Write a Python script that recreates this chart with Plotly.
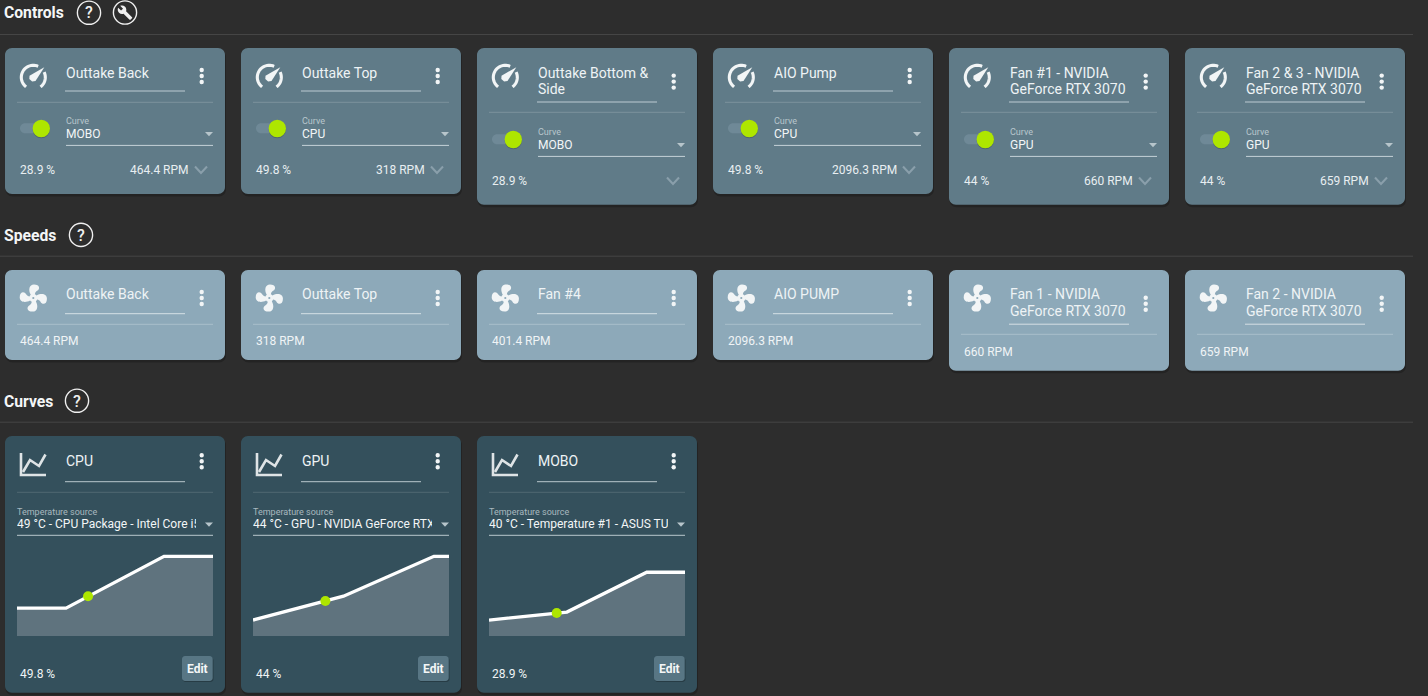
import math
import re
import plotly.graph_objects as go

# ---------- data ----------
control_names = ["Outtake Back", "Outtake Top", "Outtake Bottom &\nSide", "AIO Pump",
                 "Fan #1 - NVIDIA\nGeForce RTX 3070", "Fan 2 & 3 - NVIDIA\nGeForce RTX 3070"]
control_curves = ["MOBO", "CPU", "MOBO", "CPU", "GPU", "GPU"]
control_duties = ["28.9 %", "49.8 %", "28.9 %", "49.8 %", "44 %", "44 %"]
control_rpms = ["464.4 RPM", "318 RPM", "", "2096.3 RPM", "660 RPM", "659 RPM"]

speed_names = ["Outtake Back", "Outtake Top", "Fan #4", "AIO PUMP",
               "Fan 1 - NVIDIA\nGeForce RTX 3070", "Fan 2 - NVIDIA\nGeForce RTX 3070"]
speed_rpms = ["464.4 RPM", "318 RPM", "401.4 RPM", "2096.3 RPM", "660 RPM", "659 RPM"]

curve_names = ["CPU", "GPU", "MOBO"]
curve_sources = ["49 °C - CPU Package - Intel Core i5",
                 "44 °C - GPU - NVIDIA GeForce RTX",
                 "40 °C - Temperature #1 - ASUS TU"]
curve_labels = ["49.8 %", "44 %", "28.9 %"]

cpu_temps = [20, 40, 80, 100]
cpu_duties = [35, 35, 100, 100]
gpu_temps = [20, 50, 80, 85]
gpu_duties = [20, 50, 100, 100]
mobo_temps = [20, 43, 66.6, 77.9]
mobo_duties = [20, 30, 80, 80]
curve_temps = [cpu_temps, gpu_temps, mobo_temps]
curve_duties = [cpu_duties, gpu_duties, mobo_duties]
current_temps = [49, 44, 40]
current_duties = [49.8, 44, 28.9]

section_titles = ["Controls", "Speeds", "Curves"]

# ---------- page geometry and colours ----------
W, H = 1428, 696
BG = "#2d2d2d"
RULE = "#454545"
CTRL = "#607b88"
SPEED = "#8da9b9"
CURVE = "#34505c"
AREA = "#5f737e"
LIME = "#aee600"
ICON = "#f2f5f6"
FONT = "Roboto"

shapes = []
annotations = []


def X(px):
    return px / W


def Y(py):
    return 1 - py / H


def P(px, py):
    return f"{X(px):.6f},{Y(py):.6f}"


def path(d, fill="rgba(0,0,0,0)", line=None, width=0):
    shapes.append(dict(type="path", xref="paper", yref="paper", path=d, fillcolor=fill,
                       line=dict(color=line or "rgba(0,0,0,0)", width=width), layer="below"))


def rrect(x0, y0, x1, y1, r, fill):
    k = r * 0.45
    d = (f"M{P(x0 + r, y0)} L{P(x1 - r, y0)} C{P(x1 - k, y0)} {P(x1, y0 + k)} {P(x1, y0 + r)} "
         f"L{P(x1, y1 - r)} C{P(x1, y1 - k)} {P(x1 - k, y1)} {P(x1 - r, y1)} "
         f"L{P(x0 + r, y1)} C{P(x0 + k, y1)} {P(x0, y1 - k)} {P(x0, y1 - r)} "
         f"L{P(x0, y0 + r)} C{P(x0, y0 + k)} {P(x0 + k, y0)} {P(x0 + r, y0)} Z")
    path(d, fill=fill)


def hline(x0, x1, y, color, width=1):
    shapes.append(dict(type="line", xref="paper", yref="paper", x0=X(x0), x1=X(x1), y0=Y(y), y1=Y(y),
                       line=dict(color=color, width=width), layer="below"))


def circle(cx, cy, r, fill, line=None, width=0):
    shapes.append(dict(type="circle", xref="paper", yref="paper",
                       x0=X(cx - r), x1=X(cx + r), y0=Y(cy - r), y1=Y(cy + r),
                       fillcolor=fill, line=dict(color=line or "rgba(0,0,0,0)", width=width),
                       layer="below"))


def polyline(points, color, width, closed=False, fill="rgba(0,0,0,0)"):
    d = "M" + " L".join(P(a, b) for a, b in points) + (" Z" if closed else "")
    path(d, fill=fill, line=color, width=width)


def text(x, y, s, size=12, color="#e8eef1", anchor="left", weight=None, clip_width=None):
    font = dict(family=FONT, size=size, color=color)
    if weight:
        font["weight"] = weight
    item = dict(xref="paper", yref="paper", x=X(x), y=Y(y), text=s, showarrow=False,
                xanchor=anchor, yanchor="middle", align=anchor, font=font,
                borderpad=0, borderwidth=0)
    if clip_width:
        item["width"] = clip_width
    annotations.append(item)


def svg_icon(d, cx, cy, box_c, scale, fill):
    """Place an absolute M/L/C/Z icon outline, centred on cx, cy."""
    out = []
    for cmd, args in re.findall(r"([MLCZ])([^MLCZ]*)", d):
        nums = [float(n) for n in re.findall(r"-?\d*\.?\d+", args)]
        pts = [P(cx + (nums[i] - box_c) * scale, cy + (nums[i + 1] - box_c) * scale)
               for i in range(0, len(nums), 2)]
        out.append(cmd + " ".join(pts))
    path(" ".join(out), fill=fill)


FAN = ("M12.5,2 C17,2 17.11,5.57 14.75,6.75 C13.76,7.24 13.32,8.29 13.13,9.22 C13.61,9.42 14.03,9.73 14.35,10.13 "
       "C18.05,8.13 22.03,8.92 22.03,12.5 C22.03,17 18.46,17.1 17.28,14.73 C16.78,13.74 15.72,13.3 14.79,13.11 "
       "C14.59,13.59 14.28,14 13.88,14.34 C15.87,18.03 15.08,22 11.5,22 C7,22 6.91,18.42 9.27,17.24 "
       "C10.25,16.75 10.69,15.71 10.89,14.79 C10.4,14.59 9.97,14.27 9.65,13.87 C5.96,15.85 2,15.07 2,11.5 "
       "C2,7 5.56,6.89 6.74,9.26 C7.24,10.25 8.29,10.68 9.22,10.87 C9.41,10.39 9.73,9.97 10.14,9.65 "
       "C8.15,5.96 8.94,2 12.5,2 Z")
WRENCH = ("M22.7,19 L13.6,9.9 C14.5,7.6 14,4.9 12.1,3 C10.1,1 7.1,0.6 4.7,1.7 L9,6 L6,9 L1.6,4.7 "
          "C0.4,7.1 0.9,10.1 2.9,12.1 C4.8,14 7.5,14.5 9.8,13.6 L18.9,22.7 C19.3,23.1 19.9,23.1 20.3,22.7 "
          "L22.6,20.4 C23.1,20 23.1,19.3 22.7,19 Z")


def gauge(left, cy):
    cx, r = left + 28.3, 12
    for a0, a1 in ((-143, 24), (64, 143)):
        pts = []
        for i in range(25):
            a = math.radians(a0 + (a1 - a0) * i / 24)
            pts.append((cx + r * math.sin(a), cy + 1.3 - r * math.cos(a)))
        polyline(pts, ICON, 3.1)
    polyline([(cx + 11, cy - 8.8), (cx + 2.2, cy + 5), (cx - 1.2, cy + 5.6), (cx - 4, cy + 3), (cx - 3.8, cy - 0.2)],
             ICON, 0, closed=True, fill=ICON)


def fan(left, cy, hole):
    svg_icon(FAN, left + 28.3, cy, 12, 1.36, ICON)
    circle(left + 28.3, cy, 1.1, hole)


def chart_icon(left, top):
    c = "#dfe4e6"
    polyline([(left + 16, top + 17), (left + 16, top + 39), (left + 41, top + 39)], c, 2.6)
    polyline([(left + 18, top + 36), (left + 25, top + 24), (left + 34, top + 30), (left + 40.5, top + 18.5)], c, 2.6)


def menu(left, cy, color=ICON):
    for dy in (-6, 0, 6):
        circle(left + 196.7, cy + dy, 2.2, color)


def arrow(left, cy):
    polyline([(left + 200, cy - 2), (left + 208, cy - 2), (left + 204, cy + 2.2)],
             "#b7c5cb", 0, closed=True, fill="#b7c5cb")


def chevron(left, cy):
    polyline([(left + 190, cy - 3.5), (left + 196, cy + 3), (left + 202, cy - 3.5)], "#8a9fab", 2)


def card(left, top, bottom, fill):
    rrect(left + 0.5, top + 2, left + 221, bottom + 2.5, 7, "rgba(0,0,0,0.22)")
    rrect(left, top, left + 220, bottom, 7, fill)


def help_icon(cx, cy):
    circle(cx, cy, 11.6, "rgba(0,0,0,0)", line="#f0f0f0", width=1.4)
    text(cx, cy + 0.3, "?", size=16, color="#f0f0f0", anchor="center", weight=500)


# ---------- page background items ----------
section_y = [13, 235.2, 401]
rule_y = [34.5, 256.2, 422.2]
help_x = [89, 81, 77]
for title, sy, ry, hx in zip(section_titles, section_y, rule_y, help_x):
    text(4, sy, title, size=15.7, color="#f4f6f7", weight=700)
    hline(0, 1413, ry, RULE, 1)
    help_icon(hx, sy - 0.3)
circle(125, 12.5, 11.6, "rgba(0,0,0,0)", line="#f0f0f0", width=1.4)
svg_icon(WRENCH, 125, 12.6, 12, 0.66, "#f0f0f0")

# ---------- Controls ----------
for i, (name, curve, duty, rpm) in enumerate(zip(control_names, control_curves, control_duties, control_rpms)):
    left = 5 + 236 * i
    top = 48
    lines = name.split("\n")
    tall = len(lines) > 1
    shift = 11 if tall else 0
    card(left, top, 194 + shift - (0.3 if tall else 0), CTRL)
    gauge(left, 76)
    text(left + 61, 73.2, lines[0], size=14, color="#eef3f5")
    if tall:
        text(left + 61, 89.2, lines[1], size=14, color="#eef3f5")
    menu(left, 76 + (5.6 if tall else 0))
    hline(left + 60, left + 180, 91 + shift, "#bccbd2", 1)
    hline(left + 12, left + 208, 102.3 + (10 if tall else 0), "rgba(255,255,255,0.18)", 1)
    rrect(left + 15, 124 + shift - 0.7, left + 43, 134 + shift - 0.7, 5, "#6f8997")
    circle(left + 36.3, 130 + shift - 0.5, 8.7, "rgba(0,0,0,0.18)")
    circle(left + 36.3, 129 + shift - 0.5, 8.7, LIME)
    text(left + 61, 121.7 + shift - 1, "Curve", size=9, color="#b9c7cd")
    text(left + 61, 133.7 + shift, curve, size=12, color="#f3f6f7")
    arrow(left, 134 + shift)
    hline(left + 61, left + 208, 145.4 + shift, "#c5d2d8", 1)
    text(left + 15, 169.7 + shift, duty, size=12, color="#e8eef1")
    if rpm:
        text(left + 184, 169.7 + shift, rpm, size=12, color="#e8eef1", anchor="right")
    chevron(left, 170 + shift)

# ---------- Speeds ----------
for i, (name, rpm) in enumerate(zip(speed_names, speed_rpms)):
    left = 5 + 236 * i
    lines = name.split("\n")
    tall = len(lines) > 1
    shift = 10.5 if tall else 0
    card(left, 270, 360 + (10.7 if tall else 0), SPEED)
    fan(left, 298, SPEED)
    text(left + 61, 294.3, lines[0], size=14, color="#eef3f5")
    if tall:
        text(left + 61, 311.3, lines[1], size=14, color="#eef3f5")
    menu(left, 298 + (5.7 if tall else 0))
    hline(left + 60, left + 180, 313.7 + shift, "#d5e0e5", 1)
    hline(left + 12, left + 208, 324.3 + (10 if tall else 0), "rgba(255,255,255,0.25)", 1)
    text(left + 15, 340.7 + (11 if tall else 0), rpm, size=12, color="#f0f4f6")

# ---------- Curves ----------
data = []
layout_axes = {}
for i, (name, src, lab, temps, duties, t_now, d_now) in enumerate(
        zip(curve_names, curve_sources, curve_labels, curve_temps, curve_duties, current_temps, current_duties)):
    left = 5 + 236 * i
    top = 436
    card(left, top, 692.7, CURVE)
    chart_icon(left, top)
    text(left + 61, 461, name, size=14, color="#eef3f5")
    menu(left, 461.3)
    hline(left + 60, left + 180, 481.7, "#b9c7cd", 1)
    hline(left + 12, left + 208, 492.3, "rgba(255,255,255,0.14)", 1)
    text(left + 12, 512, "Temperature source", size=9, color="#a9b8bf")
    text(left + 12, 524, src, size=12, color="#f3f6f7", clip_width=179)
    arrow(left, 524.5)
    hline(left + 12, left + 208, 535.3, "#b9c7cd", 1)
    text(left + 15, 673.7, lab, size=12, color="#f0f4f6")
    rrect(left + 177.5, 657.5, left + 208.5, 682, 3, "rgba(0,0,0,0.25)")
    rrect(left + 177, 656, left + 207.7, 681, 3, "#587684")
    text(left + 192.5, 668.5, "Edit", size=12, color="#f4f6f7", anchor="center", weight=700)

    suffix = "" if i == 0 else str(i + 1)
    x_name, y_name = "x" + suffix, "y" + suffix
    y_top_px = 636 - 79.7 * 1.05
    layout_axes["xaxis" + suffix] = dict(domain=[X(left + 12), X(left + 208)], range=[temps[0], temps[-1]],
                                         visible=False, anchor=y_name, fixedrange=True)
    layout_axes["yaxis" + suffix] = dict(domain=[Y(636), Y(y_top_px)], range=[0, 105],
                                         visible=False, anchor=x_name, fixedrange=True)
    data.append(go.Scatter(x=temps, y=duties, xaxis=x_name, yaxis=y_name, mode="lines",
                           line=dict(color="#ffffff", width=3.3), fill="tozeroy", fillcolor=AREA,
                           hoverinfo="skip", showlegend=False))
    data.append(go.Scatter(x=[t_now], y=[d_now], xaxis=x_name, yaxis=y_name, mode="markers",
                           marker=dict(color=LIME, size=10, line=dict(width=0)),
                           hoverinfo="skip", showlegend=False))

fig = go.Figure(data=data)
fig.update_layout(width=W, height=H, autosize=False, margin=dict(l=0, r=0, t=0, b=0, pad=0),
                  paper_bgcolor=BG, plot_bgcolor="rgba(0,0,0,0)", shapes=shapes, annotations=annotations,
                  font=dict(family=FONT), **layout_axes)
fig.write_html("out.html", config={"displayModeBar": False},
               post_script="document.body.style.margin='0';document.body.style.overflow='hidden';"
                           "document.body.style.background='#2d2d2d';")
